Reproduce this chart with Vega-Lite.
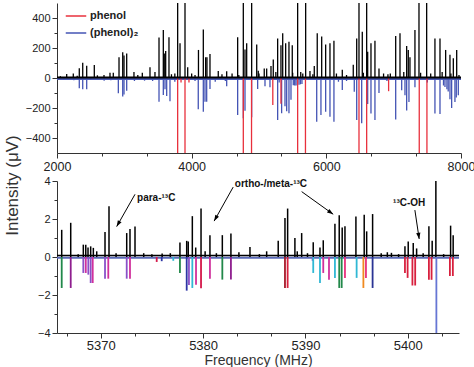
{
  "$schema": "https://vega.github.io/schema/vega-lite/v6.json",
  "autosize": {"type": "none"},
  "padding": {"left": 57, "top": 3, "right": 417, "bottom": 364},
  "config": {
    "font": "Liberation Sans",
    "view": {"stroke": null},
    "axis": {"grid": false, "labelFlush": false, "domainColor": "#333", "tickColor": "#333", "labelColor": "#222", "labelFontSize": 11, "tickSize": 5, "labelPadding": 2, "titleColor": "#333", "titleFontWeight": "normal"}
  },
  "datasets": {
    "top": [
      {"f":2144,"v":27,"s":"k"},{"f":2242,"v":30,"s":"k"},{"f":2331,"v":65,"s":"k"},{"f":2382,"v":102,"s":"k"},{"f":2441,"v":82,"s":"k"},{"f":2554,"v":87,"s":"k"},{"f":2698,"v":20,"s":"k"},{"f":2787,"v":35,"s":"k"},{"f":2836,"v":35,"s":"k"},{"f":2921,"v":138,"s":"k"},{"f":2976,"v":171,"s":"k"},{"f":2995,"v":150,"s":"k"},{"f":3035,"v":164,"s":"k"},{"f":3143,"v":40,"s":"k"},{"f":3267,"v":35,"s":"k"},{"f":3381,"v":71,"s":"k"},{"f":3455,"v":40,"s":"k"},{"f":3515,"v":270,"s":"k"},{"f":3579,"v":320,"s":"k"},{"f":3593,"v":164,"s":"k"},{"f":3614,"v":180,"s":"k"},{"f":3663,"v":271,"s":"k"},{"f":3792,"v":600,"s":"k"},{"f":3827,"v":231,"s":"k"},{"f":3901,"v":600,"s":"k"},{"f":3941,"v":71,"s":"k"},{"f":4101,"v":187,"s":"k"},{"f":4173,"v":324,"s":"k"},{"f":4208,"v":138,"s":"k"},{"f":4227,"v":138,"s":"k"},{"f":4272,"v":160,"s":"k"},{"f":4395,"v":47,"s":"k"},{"f":4520,"v":45,"s":"k"},{"f":4683,"v":271,"s":"k"},{"f":4767,"v":600,"s":"k"},{"f":4792,"v":190,"s":"k"},{"f":4817,"v":231,"s":"k"},{"f":4891,"v":600,"s":"k"},{"f":4966,"v":224,"s":"k"},{"f":4989,"v":49,"s":"k"},{"f":5078,"v":64,"s":"k"},{"f":5114,"v":64,"s":"k"},{"f":5178,"v":80,"s":"k"},{"f":5212,"v":124,"s":"k"},{"f":5277,"v":264,"s":"k"},{"f":5326,"v":218,"s":"k"},{"f":5352,"v":298,"s":"k"},{"f":5396,"v":231,"s":"k"},{"f":5445,"v":242,"s":"k"},{"f":5494,"v":218,"s":"k"},{"f":5574,"v":600,"s":"k"},{"f":5693,"v":600,"s":"k"},{"f":5757,"v":47,"s":"k"},{"f":5821,"v":80,"s":"k"},{"f":5865,"v":298,"s":"k"},{"f":5931,"v":276,"s":"k"},{"f":5990,"v":224,"s":"k"},{"f":6054,"v":231,"s":"k"},{"f":6113,"v":249,"s":"k"},{"f":6237,"v":55,"s":"k"},{"f":6400,"v":89,"s":"k"},{"f":6451,"v":264,"s":"k"},{"f":6485,"v":600,"s":"k"},{"f":6534,"v":309,"s":"k"},{"f":6599,"v":600,"s":"k"},{"f":6614,"v":175,"s":"k"},{"f":6663,"v":231,"s":"k"},{"f":6722,"v":249,"s":"k"},{"f":6782,"v":64,"s":"k"},{"f":6915,"v":25,"s":"k"},{"f":7030,"v":280,"s":"k"},{"f":7094,"v":298,"s":"k"},{"f":7193,"v":213,"s":"k"},{"f":7217,"v":187,"s":"k"},{"f":7242,"v":138,"s":"k"},{"f":7316,"v":320,"s":"k"},{"f":7376,"v":600,"s":"k"},{"f":7490,"v":600,"s":"k"},{"f":7613,"v":264,"s":"k"},{"f":7688,"v":264,"s":"k"},{"f":7772,"v":187,"s":"k"},{"f":7836,"v":155,"s":"k"},{"f":7886,"v":131,"s":"k"},{"f":7936,"v":187,"s":"k"},
      {"f":2050,"v":12,"s":"k"},{"f":2300,"v":15,"s":"k"},{"f":2600,"v":18,"s":"k"},{"f":3200,"v":20,"s":"k"},{"f":3700,"v":25,"s":"k"},{"f":3750,"v":30,"s":"k"},{"f":4000,"v":30,"s":"k"},{"f":4050,"v":20,"s":"k"},{"f":4450,"v":25,"s":"k"},{"f":4600,"v":30,"s":"k"},{"f":4700,"v":20,"s":"k"},{"f":5000,"v":30,"s":"k"},{"f":5250,"v":40,"s":"k"},{"f":5500,"v":35,"s":"k"},{"f":5620,"v":40,"s":"k"},{"f":5650,"v":30,"s":"k"},{"f":5800,"v":25,"s":"k"},{"f":6150,"v":30,"s":"k"},{"f":6300,"v":20,"s":"k"},{"f":6550,"v":35,"s":"k"},{"f":6850,"v":30,"s":"k"},{"f":6950,"v":30,"s":"k"},{"f":7150,"v":40,"s":"k"},{"f":7400,"v":35,"s":"k"},{"f":7550,"v":30,"s":"k"},{"f":7720,"v":40,"s":"k"},{"f":7850,"v":30,"s":"k"},{"f":7970,"v":20,"s":"k"},
      {"f":2331,"v":-69,"s":"(phenol)₂"},{"f":2382,"v":-75,"s":"(phenol)₂"},{"f":2441,"v":-75,"s":"(phenol)₂"},{"f":2911,"v":-102,"s":"(phenol)₂"},{"f":2976,"v":-124,"s":"(phenol)₂"},{"f":2995,"v":-110,"s":"(phenol)₂"},{"f":3035,"v":-85,"s":"(phenol)₂"},{"f":3515,"v":-158,"s":"(phenol)₂"},{"f":3579,"v":-113,"s":"(phenol)₂"},{"f":3604,"v":-75,"s":"(phenol)₂"},{"f":3629,"v":-120,"s":"(phenol)₂"},{"f":3678,"v":-155,"s":"(phenol)₂"},{"f":4098,"v":-209,"s":"(phenol)₂"},{"f":4173,"v":-225,"s":"(phenol)₂"},{"f":4198,"v":-158,"s":"(phenol)₂"},{"f":4223,"v":-158,"s":"(phenol)₂"},{"f":4272,"v":-73,"s":"(phenol)₂"},{"f":4520,"v":-55,"s":"(phenol)₂"},{"f":4683,"v":-247,"s":"(phenol)₂"},{"f":4767,"v":-269,"s":"(phenol)₂"},{"f":4792,"v":-218,"s":"(phenol)₂"},{"f":4891,"v":-262,"s":"(phenol)₂"},{"f":4980,"v":-73,"s":"(phenol)₂"},{"f":5089,"v":-55,"s":"(phenol)₂"},{"f":5163,"v":-62,"s":"(phenol)₂"},{"f":5277,"v":-280,"s":"(phenol)₂"},{"f":5336,"v":-235,"s":"(phenol)₂"},{"f":5386,"v":-189,"s":"(phenol)₂"},{"f":5411,"v":-222,"s":"(phenol)₂"},{"f":5445,"v":-235,"s":"(phenol)₂"},{"f":5475,"v":-145,"s":"(phenol)₂"},{"f":5509,"v":-49,"s":"(phenol)₂"},{"f":5530,"v":-50,"s":"(phenol)₂"},{"f":5549,"v":-50,"s":"(phenol)₂"},{"f":5570,"v":-48,"s":"(phenol)₂"},{"f":5594,"v":-45,"s":"(phenol)₂"},{"f":5615,"v":-42,"s":"(phenol)₂"},{"f":5638,"v":-40,"s":"(phenol)₂"},{"f":5857,"v":-291,"s":"(phenol)₂"},{"f":5920,"v":-247,"s":"(phenol)₂"},{"f":5990,"v":-225,"s":"(phenol)₂"},{"f":6054,"v":-258,"s":"(phenol)₂"},{"f":6113,"v":-291,"s":"(phenol)₂"},{"f":6237,"v":-80,"s":"(phenol)₂"},{"f":6415,"v":-91,"s":"(phenol)₂"},{"f":6451,"v":-280,"s":"(phenol)₂"},{"f":6525,"v":-302,"s":"(phenol)₂"},{"f":6614,"v":-173,"s":"(phenol)₂"},{"f":6663,"v":-236,"s":"(phenol)₂"},{"f":6722,"v":-280,"s":"(phenol)₂"},{"f":6782,"v":-100,"s":"(phenol)₂"},{"f":7030,"v":-276,"s":"(phenol)₂"},{"f":7119,"v":-82,"s":"(phenol)₂"},{"f":7168,"v":-115,"s":"(phenol)₂"},{"f":7193,"v":-216,"s":"(phenol)₂"},{"f":7227,"v":-160,"s":"(phenol)₂"},{"f":7316,"v":-62,"s":"(phenol)₂"},{"f":7613,"v":-236,"s":"(phenol)₂"},{"f":7688,"v":-240,"s":"(phenol)₂"},{"f":7740,"v":-50,"s":"(phenol)₂"},{"f":7762,"v":-60,"s":"(phenol)₂"},{"f":7791,"v":-75,"s":"(phenol)₂"},{"f":7810,"v":-90,"s":"(phenol)₂"},{"f":7836,"v":-142,"s":"(phenol)₂"},{"f":7861,"v":-200,"s":"(phenol)₂"},{"f":7910,"v":-160,"s":"(phenol)₂"},{"f":7930,"v":-130,"s":"(phenol)₂"},{"f":7960,"v":-115,"s":"(phenol)₂"},
      {"f":2100,"v":-12,"s":"(phenol)₂"},{"f":2250,"v":-15,"s":"(phenol)₂"},{"f":2500,"v":-12,"s":"(phenol)₂"},{"f":2700,"v":-18,"s":"(phenol)₂"},{"f":2800,"v":-15,"s":"(phenol)₂"},{"f":3150,"v":-20,"s":"(phenol)₂"},{"f":3300,"v":-18,"s":"(phenol)₂"},{"f":3420,"v":-20,"s":"(phenol)₂"},{"f":3750,"v":-25,"s":"(phenol)₂"},{"f":4050,"v":-20,"s":"(phenol)₂"},{"f":4350,"v":-25,"s":"(phenol)₂"},{"f":4500,"v":-20,"s":"(phenol)₂"},{"f":5300,"v":-30,"s":"(phenol)₂"},{"f":6180,"v":-25,"s":"(phenol)₂"},{"f":6300,"v":-20,"s":"(phenol)₂"},{"f":6900,"v":-20,"s":"(phenol)₂"},{"f":7500,"v":-30,"s":"(phenol)₂"},
      {"f":3792,"v":-600,"s":"phenol"},{"f":3842,"v":-30,"s":"phenol"},{"f":3901,"v":-600,"s":"phenol"},{"f":3960,"v":-30,"s":"phenol"},{"f":4767,"v":-600,"s":"phenol"},{"f":4889,"v":-600,"s":"phenol"},{"f":5205,"v":-180,"s":"phenol"},{"f":5326,"v":-172,"s":"phenol"},{"f":5574,"v":-600,"s":"phenol"},{"f":5690,"v":-600,"s":"phenol"},{"f":6485,"v":-600,"s":"phenol"},{"f":6599,"v":-600,"s":"phenol"},{"f":6925,"v":-88,"s":"phenol"},{"f":7380,"v":-600,"s":"phenol"},{"f":7494,"v":-600,"s":"phenol"}
    ],
    "topbase": [
      {"s":"(phenol)₂","f":2000,"f2":8000,"v":-5},
      {"s":"k","f":2000,"f2":8000,"v":4}
    ],
    "bottom": [
      {"m":5366.19,"v":1.43,"c":"k"},{"m":5367.07,"v":1.8,"c":"k"},{"m":5368.30,"v":0.65,"c":"k"},{"m":5368.54,"v":0.65,"c":"k"},{"m":5368.76,"v":0.5,"c":"k"},{"m":5369.02,"v":0.56,"c":"k"},{"m":5369.28,"v":0.48,"c":"k"},{"m":5369.61,"v":0.3,"c":"k"},{"m":5370.42,"v":1.32,"c":"k"},{"m":5370.81,"v":2.67,"c":"k"},{"m":5372.54,"v":1.26,"c":"k"},{"m":5372.86,"v":1.48,"c":"k"},{"m":5373.35,"v":1.6,"c":"k"},{"m":5377.74,"v":0.76,"c":"k"},{"m":5378.40,"v":0.85,"c":"k"},{"m":5378.55,"v":0.82,"c":"k"},{"m":5378.95,"v":2.15,"c":"k"},{"m":5379.28,"v":0.5,"c":"k"},{"m":5379.80,"v":2.55,"c":"k"},{"m":5380.67,"v":1.15,"c":"k"},{"m":5381.88,"v":1.15,"c":"k"},{"m":5382.72,"v":1.24,"c":"k"},{"m":5384.58,"v":0.53,"c":"k"},{"m":5386.21,"v":0.3,"c":"k"},{"m":5387.34,"v":0.86,"c":"k"},{"m":5388.0,"v":2.05,"c":"k"},{"m":5388.26,"v":2.55,"c":"k"},{"m":5388.97,"v":1.0,"c":"k"},{"m":5389.63,"v":1.26,"c":"k"},{"m":5390.76,"v":0.77,"c":"k"},{"m":5391.42,"v":0.5,"c":"k"},{"m":5391.74,"v":0.88,"c":"k"},{"m":5392.88,"v":1.75,"c":"k"},{"m":5393.30,"v":2.2,"c":"k"},{"m":5393.59,"v":1.55,"c":"k"},{"m":5393.86,"v":1.62,"c":"k"},{"m":5394.93,"v":2.13,"c":"k"},{"m":5395.74,"v":2.23,"c":"k"},{"m":5395.98,"v":1.35,"c":"k"},{"m":5396.56,"v":2.26,"c":"k"},{"m":5398.0,"v":0.25,"c":"k"},{"m":5399.72,"v":0.56,"c":"k"},{"m":5400.04,"v":0.82,"c":"k"},{"m":5400.53,"v":0.74,"c":"k"},{"m":5400.86,"v":0.45,"c":"k"},{"m":5402.06,"v":1.62,"c":"k"},{"m":5402.38,"v":0.85,"c":"k"},{"m":5402.74,"v":4.1,"c":"k"},{"m":5404.18,"v":1.65,"c":"k"},{"m":5404.43,"v":1.14,"c":"k"},
      {"m":5367.8,"v":0.15,"c":"k"},{"m":5371.5,"v":0.2,"c":"k"},{"m":5374.2,"v":0.2,"c":"k"},{"m":5375.0,"v":0.15,"c":"k"},{"m":5376.0,"v":0.18,"c":"k"},{"m":5376.8,"v":0.2,"c":"k"},{"m":5380.2,"v":0.3,"c":"k"},{"m":5381.3,"v":0.2,"c":"k"},{"m":5383.5,"v":0.25,"c":"k"},{"m":5385.5,"v":0.15,"c":"k"},{"m":5389.2,"v":0.3,"c":"k"},{"m":5390.2,"v":0.2,"c":"k"},{"m":5397.4,"v":0.2,"c":"k"},{"m":5398.4,"v":0.22,"c":"k"},{"m":5399.1,"v":0.15,"c":"k"},{"m":5401.5,"v":0.2,"c":"k"},{"m":5403.5,"v":0.15,"c":"k"},
      {"m":5366.19,"v":-1.63,"c":"green"},{"m":5367.07,"v":-1.63,"c":"purple"},{"m":5368.30,"v":-0.84,"c":"violet"},{"m":5368.54,"v":-0.84,"c":"magenta"},{"m":5368.79,"v":-0.93,"c":"violet"},{"m":5369.02,"v":-1.37,"c":"violet"},{"m":5369.22,"v":-1.37,"c":"magenta"},{"m":5370.42,"v":-1.14,"c":"violet"},{"m":5370.74,"v":-1.14,"c":"magenta"},{"m":5372.54,"v":-1.14,"c":"violet"},{"m":5372.86,"v":-1.14,"c":"magenta"},{"m":5375.47,"v":-0.26,"c":"crimson"},{"m":5375.96,"v":-0.22,"c":"blue"},{"m":5377.09,"v":-0.2,"c":"cyan"},{"m":5377.74,"v":-0.84,"c":"green"},{"m":5378.40,"v":-1.77,"c":"blue"},{"m":5378.62,"v":-1.47,"c":"violet"},{"m":5378.95,"v":-1.63,"c":"cyan"},{"m":5379.31,"v":-1.46,"c":"magenta"},{"m":5379.80,"v":-1.65,"c":"crimson"},{"m":5380.67,"v":-1.14,"c":"magenta"},{"m":5381.88,"v":-1.19,"c":"green"},{"m":5382.72,"v":-1.19,"c":"purple"},{"m":5388.0,"v":-1.63,"c":"darkred"},{"m":5388.26,"v":-1.63,"c":"red"},{"m":5390.70,"v":-0.2,"c":"violet"},{"m":5390.76,"v":-0.84,"c":"cyan"},{"m":5391.42,"v":-1.37,"c":"cyan"},{"m":5391.74,"v":-0.84,"c":"magenta"},{"m":5392.30,"v":-1.2,"c":"magenta"},{"m":5392.88,"v":-1.1,"c":"cyan"},{"m":5393.30,"v":-1.63,"c":"green"},{"m":5393.54,"v":-1.63,"c":"green"},{"m":5393.86,"v":-1.1,"c":"pink"},{"m":5395.0,"v":-1.1,"c":"cyan"},{"m":5395.66,"v":-1.63,"c":"orange"},{"m":5395.91,"v":-1.1,"c":"pink"},{"m":5396.56,"v":-1.63,"c":"navy"},{"m":5399.72,"v":-0.84,"c":"red"},{"m":5399.98,"v":-1.1,"c":"red"},{"m":5400.45,"v":-1.5,"c":"red"},{"m":5400.72,"v":-1.5,"c":"red"},{"m":5402.06,"v":-1.2,"c":"red"},{"m":5402.32,"v":-1.2,"c":"red"},{"m":5402.79,"v":-4.3,"c":"peri"},{"m":5404.11,"v":-1.0,"c":"red"},{"m":5404.40,"v":-1.0,"c":"red"}
    ],
    "botbase": [
      {"c":"peri","m":5365.73,"m2":5405,"v":-0.04},
      {"c":"k","m":5365.73,"m2":5405,"v":0.08}
    ],
    "labels": [
      {"m":5373.55,"v":3.09,"t":"para-¹³C"},
      {"m":5383.1,"v":3.83,"t":"ortho-/meta-¹³C"},
      {"m":5398.56,"v":2.83,"t":"¹³C-OH"}
    ],
    "arrows": [
      {"a":1,"m":5373.35,"v":3.3,"m2":5371.56,"v2":1.6},
      {"a":2,"m":5382.94,"v":3.68,"m2":5381.08,"v2":1.89},
      {"a":3,"m":5389.63,"v":3.44,"m2":5392.71,"v2":2.25},
      {"a":4,"m":5400.69,"v":2.47,"m2":5401.11,"v2":0.95}
    ]
  },
  "vconcat": [
    {
      "width": 404,
      "height": 150,
      "encoding": {
        "x": {"field": "f", "type": "quantitative", "scale": {"domain": [2000, 8000], "nice": false},
              "axis": {"title": null, "labelFlush": false, "values": [2000, 2666.67, 3333.33, 4000, 4666.67, 5333.33, 6000, 6666.67, 7333.33, 8000], "labelExpr": "datum.value % 2000 === 0 ? format(datum.value, 'd') : ''", "labelFontSize": 12.5, "labelPadding": 2, "tickSize": {"condition": {"test": "datum.value % 2000 === 0", "value": 5}, "value": 3}}},
        "y": {"field": "v", "type": "quantitative", "scale": {"domain": [-500, 500], "nice": false},
              "axis": {"title": "Intensity (μV)", "labelFlush": false, "titleFontSize": 17, "titleX": -45, "titleY": 182, "titleAngle": -90, "titleAlign": "center", "titleBaseline": "middle", "values": [-400, -300, -200, -100, 0, 100, 200, 300, 400], "labelExpr": "datum.value % 200 === 0 ? format(datum.value, 'd') : ''", "tickSize": {"condition": {"test": "datum.value % 200 === 0", "value": 5}, "value": 3}}}
      },
      "layer": [
        {
          "data": {"name": "topbase"},
          "transform": [{"filter": "datum.s !== 'k'"}],
          "mark": {"type": "rule", "color": "#4a5ab4", "strokeWidth": 2.5},
          "encoding": {"x2": {"field": "f2"}}
        },
        {
          "data": {"name": "top"},
          "transform": [{"filter": "datum.s !== 'k'"}],
          "mark": {"type": "rule", "strokeWidth": 1.3, "clip": true},
          "encoding": {
            "y2": {"datum": 0},
            "color": {"field": "s", "type": "nominal", "scale": {"domain": ["phenol", "(phenol)₂"], "range": ["#e8303c", "#4454b4"]},
                      "legend": {"title": null, "orient": "none", "legendX": 8, "legendY": 2, "symbolType": "stroke", "symbolSize": 420, "symbolStrokeWidth": 1.5, "labelFontSize": 11, "labelFontWeight": "bold", "labelColor": "#222", "rowPadding": 1, "labelOffset": 3}}
          }
        },
        {
          "data": {"name": "top"},
          "transform": [{"filter": "datum.s === 'k'"}],
          "mark": {"type": "rule", "strokeWidth": 1.3, "color": "#000", "clip": true},
          "encoding": {"y2": {"datum": 0}}
        },
        {
          "data": {"name": "topbase"},
          "transform": [{"filter": "datum.s === 'k'"}],
          "mark": {"type": "rule", "color": "#000", "strokeWidth": 2},
          "encoding": {"x2": {"field": "f2"}}
        }
      ]
    },
    {
      "width": 402,
      "height": 152,
      "encoding": {
        "x": {"field": "m", "type": "quantitative", "scale": {"domain": [5365.73, 5405], "nice": false, "zero": false},
              "axis": {"title": "Frequency (MHz)", "labelFlush": false, "titleFontSize": 14, "titlePadding": 1, "values": [5366.667, 5370, 5373.333, 5376.667, 5380, 5383.333, 5386.667, 5390, 5393.333, 5396.667, 5400, 5403.333], "labelExpr": "abs(datum.value % 10) < 0.01 ? format(datum.value, 'd') : ''", "labelFontSize": 13, "labelPadding": 1, "tickSize": {"condition": {"test": "abs(datum.value % 10) < 0.01", "value": 5}, "value": 3}}},
        "y": {"field": "v", "type": "quantitative", "scale": {"domain": [-4, 4], "nice": false},
              "axis": {"title": null, "labelFlush": false, "values": [-4, -3, -2, -1, 0, 1, 2, 3, 4], "labelExpr": "datum.value % 2 === 0 ? format(datum.value, 'd') : ''", "tickSize": {"condition": {"test": "datum.value % 2 === 0", "value": 5}, "value": 3}}}
      },
      "layer": [
        {
          "data": {"name": "botbase"},
          "transform": [{"filter": "datum.c !== 'k'"}],
          "mark": {"type": "rule", "color": "#5a6ab8", "strokeWidth": 1.8},
          "encoding": {"x2": {"field": "m2"}}
        },
        {
          "data": {"name": "bottom"},
          "transform": [{"filter": "datum.c !== 'k'"}],
          "mark": {"type": "rule", "strokeWidth": 1.8, "clip": true},
          "encoding": {
            "y2": {"datum": 0},
            "color": {"field": "c", "type": "nominal", "legend": null,
                      "scale": {"domain": ["green", "purple", "violet", "magenta", "crimson", "blue", "cyan", "darkred", "red", "pink", "orange", "navy", "peri"],
                                "range": ["#22884a", "#8e1e8e", "#8a50c8", "#d0309c", "#d4184a", "#2c34a4", "#30b8d4", "#a81828", "#d8203e", "#e8307c", "#f08a20", "#2a3494", "#6676d4"]}}
          }
        },
        {
          "data": {"name": "botbase"},
          "transform": [{"filter": "datum.c === 'k'"}],
          "mark": {"type": "rule", "color": "#000", "strokeWidth": 1.3},
          "encoding": {"x2": {"field": "m2"}}
        },
        {
          "data": {"name": "bottom"},
          "transform": [{"filter": "datum.c === 'k'"}],
          "mark": {"type": "rule", "strokeWidth": 1.5, "color": "#000", "clip": true},
          "encoding": {"y2": {"datum": 0}}
        },
        {
          "data": {"name": "labels"},
          "mark": {"type": "text", "align": "left", "baseline": "middle", "fontWeight": "bold", "fontSize": 10, "color": "#111"},
          "encoding": {"text": {"field": "t"}}
        },
        {
          "data": {"name": "arrows"},
          "mark": {"type": "rule", "color": "#000", "strokeWidth": 1},
          "encoding": {"x2": {"field": "m2"}, "y2": {"field": "v2"}}
        },
        {
          "data": {"name": "arrows"},
          "transform": [{"filter": "datum.a === 1"}],
          "mark": {"type": "point", "shape": "M0,0L-0.45,1.3L0.45,1.3Z", "filled": true, "color": "#000", "opacity": 1, "size": 90, "angle": 209.5},
          "encoding": {"x": {"field": "m2", "type": "quantitative"}, "y": {"field": "v2", "type": "quantitative"}}
        },
        {
          "data": {"name": "arrows"},
          "transform": [{"filter": "datum.a === 2"}],
          "mark": {"type": "point", "shape": "M0,0L-0.45,1.3L0.45,1.3Z", "filled": true, "color": "#000", "opacity": 1, "size": 90, "angle": 209.2},
          "encoding": {"x": {"field": "m2", "type": "quantitative"}, "y": {"field": "v2", "type": "quantitative"}}
        },
        {
          "data": {"name": "arrows"},
          "transform": [{"filter": "datum.a === 3"}],
          "mark": {"type": "point", "shape": "M0,0L-0.45,1.3L0.45,1.3Z", "filled": true, "color": "#000", "opacity": 1, "size": 90, "angle": 125.7},
          "encoding": {"x": {"field": "m2", "type": "quantitative"}, "y": {"field": "v2", "type": "quantitative"}}
        },
        {
          "data": {"name": "arrows"},
          "transform": [{"filter": "datum.a === 4"}],
          "mark": {"type": "point", "shape": "M0,0L-0.45,1.3L0.45,1.3Z", "filled": true, "color": "#000", "opacity": 1, "size": 90, "angle": 171.5},
          "encoding": {"x": {"field": "m2", "type": "quantitative"}, "y": {"field": "v2", "type": "quantitative"}}
        }
      ]
    }
  ],
  "bounds": "flush",
  "spacing": 28,
  "resolve": {"scale": {"color": "independent", "x": "independent", "y": "independent"}}
}
